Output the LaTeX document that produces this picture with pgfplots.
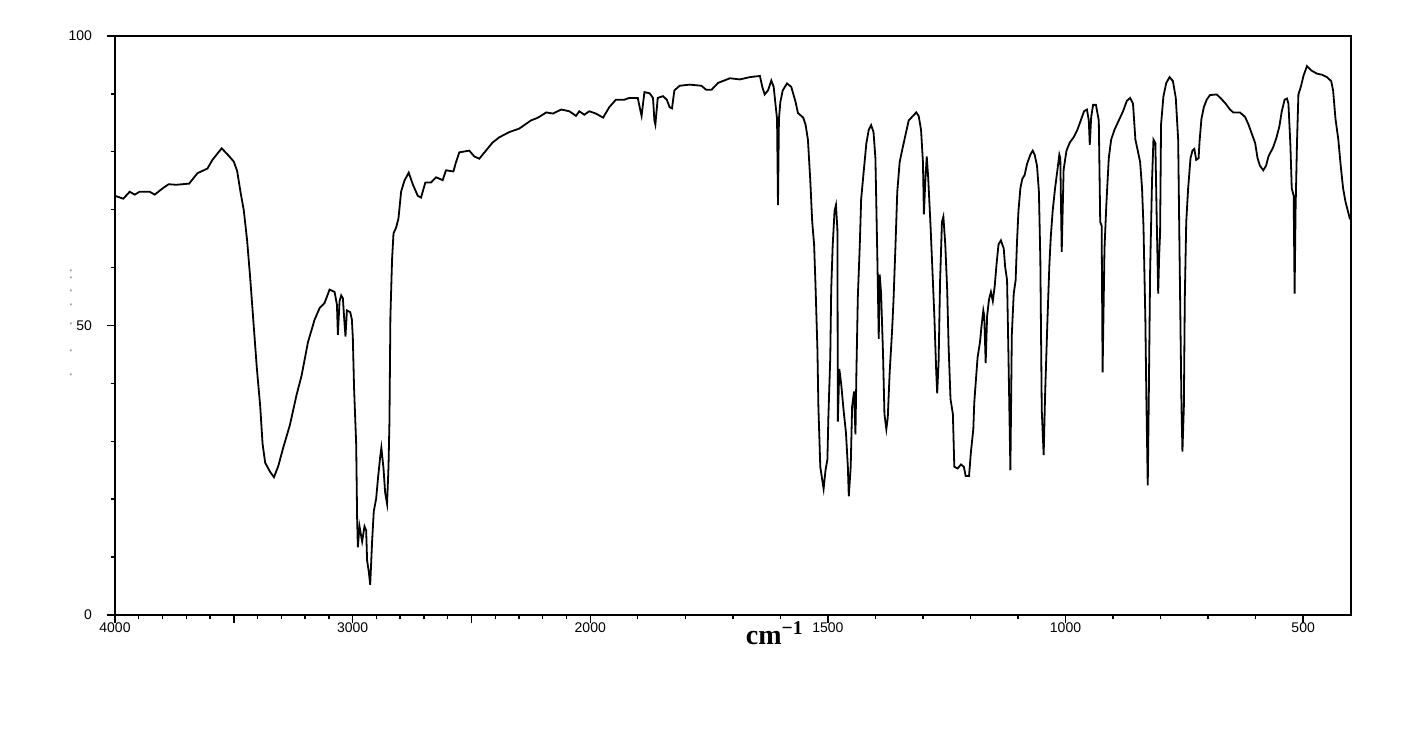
\documentclass[border=0pt]{standalone}
\usepackage{pgfplots}
\pgfplotsset{compat=1.18}
\usepackage{fontspec}
\setmainfont{Liberation Sans}
\newfontfamily\serifbold{Liberation Serif}
\makeatletter
% IR charts: scale above 2000 cm^-1 is half that below 2000 cm^-1
\pgfplotsset{irscale/.style={x coord trafo/.code={\begingroup\dimen0=##1pt\relax\ifdim\dimen0<2000pt\relax\multiply\dimen0 by 2\relax\advance\dimen0 by -2000pt\relax\fi\xdef\pgfmathresult{\pgf@sys@tonumber{\dimen0}}\endgroup}}}
\makeatother
\begin{document}
\begin{tikzpicture}
\path[use as bounding box] (-57.5pt,-63.5pt) rectangle (655.5pt,307.5pt);
\begin{axis}[
  irscale,
  scale only axis, width=617.85pt, height=289.5pt,
  x dir=reverse,
  xmin=400, xmax=4000, ymin=0, ymax=100,
  axis line style={line width=0.9pt},
  tick align=outside, xtick pos=bottom, ytick pos=left,
  xtick={4000,3000,2000,1500,1000,500},
  xticklabels={4000,3000,2000,1500,1000,500},
  extra x ticks={3500,2500}, extra x tick labels={},
  minor xtick={3900,3800,3700,3600,3400,3300,3200,3100,2900,2800,2700,2600,2400,2300,2200,2100,1900,1800,1700,1600,1400,1300,1200,1100,900,800,700,600},
  ytick={0,50,100}, yticklabels={0,50,100},
  minor ytick={10,20,30,40,60,70,80,90},
  major tick length=4pt, minor tick length=2.2pt,
  every tick/.style={line width=0.7pt, black},
  ticklabel style={font=\fontsize{7}{8}\selectfont},
  xticklabel style={yshift=3.5pt},
  yticklabel style={xshift=-4pt},
  clip=false,
]
\addplot[black, line width=0.9pt] table {
4000 72.4
3965 71.9
3938 73.1
3917 72.6
3896 73.1
3854 73.1
3833 72.6
3799 73.7
3774 74.4
3743 74.3
3688 74.5
3653 76.3
3611 77.1
3590 78.6
3551 80.6
3521 79.3
3500 78.3
3486 76.7
3472 73.1
3458 69.9
3444 64.7
3431 58.2
3417 50.4
3403 42.6
3389 36.1
3379 29.6
3368 26.3
3347 24.7
3331 23.8
3313 25.7
3292 28.9
3264 32.8
3236 38.0
3215 41.3
3188 47.1
3160 51.0
3139 53.0
3118 53.9
3097 56.2
3076 55.8
3066 53.6
3062 48.4
3055 54.2
3048 55.2
3041 54.7
3034 50.3
3030 48.1
3024 52.6
3010 52.3
3003 51.0
2999 47.7
2994 39.3
2985 29.5
2981 16.6
2978 11.7
2971 15.3
2960 12.7
2950 15.3
2943 14.6
2939 9.4
2932 7.5
2926 5.2
2918 12.7
2911 17.9
2901 20.1
2893 23.7
2884 27.3
2879 28.9
2870 25.3
2863 21.1
2855 19.2
2849 25.6
2845 33.4
2841 51.6
2834 61.4
2828 65.9
2817 66.9
2807 68.5
2796 73.1
2782 75.0
2764 76.4
2747 74.4
2726 72.4
2712 72.1
2694 74.7
2670 74.7
2649 75.6
2621 75.1
2607 76.8
2576 76.6
2565 78.2
2551 79.9
2509 80.2
2488 79.2
2467 78.8
2439 80.2
2411 81.6
2383 82.5
2341 83.4
2299 84.0
2250 85.4
2220 85.9
2185 86.8
2157 86.6
2122 87.3
2088 87.0
2060 86.2
2046 87.0
2025 86.4
2004 87.0
1988 86.6
1973 85.9
1960 87.7
1946 89.0
1928 89.0
1918 89.3
1900 89.3
1895 87.3
1892 86.2
1886 90.3
1875 90.1
1868 89.3
1865 85.4
1863 84.7
1858 89.3
1847 89.6
1839 89.0
1833 87.7
1828 87.5
1823 90.6
1812 91.4
1791 91.6
1766 91.4
1756 90.7
1745 90.7
1731 91.9
1706 92.7
1685 92.5
1664 92.9
1643 93.1
1638 91.2
1633 89.9
1626 90.6
1619 92.3
1614 91.2
1610 88.0
1607 85.7
1605 70.8
1603 85.7
1600 88.6
1595 90.6
1586 91.8
1577 91.2
1568 88.6
1563 86.7
1552 85.9
1547 84.7
1542 82.1
1537 75.0
1533 67.9
1529 64.0
1526 56.8
1522 45.8
1520 36.0
1516 25.6
1512 23.4
1509 21.8
1505 25.0
1501 26.9
1499 34.1
1495 44.5
1493 56.2
1490 63.6
1486 69.8
1483 70.8
1480 66.6
1479 33.4
1476 42.5
1472 39.9
1467 35.4
1462 31.5
1458 25.6
1456 20.5
1452 25.6
1449 36.0
1445 38.6
1442 31.2
1440 41.9
1437 54.9
1433 63.6
1430 71.8
1425 76.3
1419 81.5
1414 83.8
1409 84.6
1404 83.4
1400 78.9
1396 62.0
1393 47.7
1391 58.8
1388 55.5
1384 45.1
1381 34.7
1377 32.1
1374 34.1
1370 41.9
1365 49.0
1362 54.2
1358 63.3
1354 73.1
1349 78.2
1344 80.2
1337 82.8
1330 85.4
1321 86.2
1314 86.8
1309 86.2
1304 83.8
1300 78.2
1298 69.2
1295 75.0
1292 79.2
1289 75.6
1284 67.2
1279 57.5
1276 51.6
1272 41.9
1270 38.3
1267 43.8
1264 57.5
1260 67.9
1257 68.8
1253 64.0
1249 56.2
1246 46.4
1242 37.3
1237 34.7
1234 25.6
1227 25.3
1220 26.0
1214 25.6
1210 24.0
1203 24.0
1199 28.2
1194 32.1
1192 36.7
1188 41.2
1185 44.5
1180 47.1
1177 49.7
1173 52.6
1171 51.6
1168 43.5
1165 51.6
1161 54.5
1157 55.8
1153 54.2
1149 56.8
1145 60.7
1141 64.0
1136 64.7
1130 63.3
1127 60.1
1123 57.8
1120 44.5
1116 25.0
1113 48.4
1109 55.5
1105 57.8
1102 64.6
1099 69.8
1095 73.7
1091 75.3
1086 76.0
1081 77.9
1074 79.5
1069 80.2
1065 79.5
1060 77.6
1056 73.1
1053 61.4
1050 35.4
1046 27.6
1043 38.0
1038 51.0
1034 60.4
1031 65.3
1027 69.8
1022 73.7
1017 76.9
1013 79.5
1011 78.9
1008 62.7
1004 76.9
998 80.2
991 81.6
983 82.5
975 83.8
968 85.4
961 87.0
955 87.3
951 85.4
949 81.2
946 86.0
942 88.1
936 88.1
930 85.4
927 67.9
924 67.2
922 41.9
918 63.3
914 71.1
909 78.9
904 82.1
897 83.8
888 85.4
879 87.0
871 88.8
864 89.3
858 88.3
853 82.1
848 80.2
843 78.2
839 73.7
836 67.2
832 51.0
830 38.0
827 22.4
825 36.0
822 59.4
818 75.0
815 82.1
811 81.5
808 67.9
805 55.5
803 62.0
801 66.0
799 84.7
794 89.6
788 91.9
781 92.9
774 92.2
768 89.3
763 82.1
760 62.0
756 36.0
754 28.2
751 36.0
749 54.9
746 67.9
742 73.7
737 78.9
733 80.2
729 80.5
725 78.6
720 78.9
718 81.8
714 85.7
709 87.7
703 89.0
696 89.8
682 89.9
674 89.3
663 88.3
654 87.3
647 86.8
633 86.8
622 86.0
615 84.7
608 83.1
601 81.5
596 78.9
591 77.6
584 76.8
578 77.6
573 79.2
563 80.8
556 82.5
550 84.4
545 87.0
539 89.0
534 89.2
531 88.3
527 81.5
524 73.7
520 72.4
518 55.5
516 69.8
513 81.5
510 89.9
505 91.2
499 93.2
492 94.8
482 94.0
471 93.5
460 93.3
450 92.9
441 92.2
437 90.6
432 85.7
426 82.1
421 77.6
416 73.7
411 71.4
406 69.8
402 68.5
400 68.3
};
\node[anchor=north, inner sep=0pt, font=\serifbold\bfseries\fontsize{14}{14}\selectfont] at (rel axis cs:0.534,0) [yshift=-3pt] {cm\textsuperscript{−1}};
\node[rotate=90, inner sep=0pt, text=gray!80, font=\bfseries\fontsize{6}{6}\selectfont] at ([xshift=-22pt]rel axis cs:0,0.505) {.\hspace{10pt}.\hspace{12pt}.\hspace{8pt}.\hspace{5pt}.\hspace{5pt}.\hspace{2pt}.};
\end{axis}
\end{tikzpicture}
\end{document}
